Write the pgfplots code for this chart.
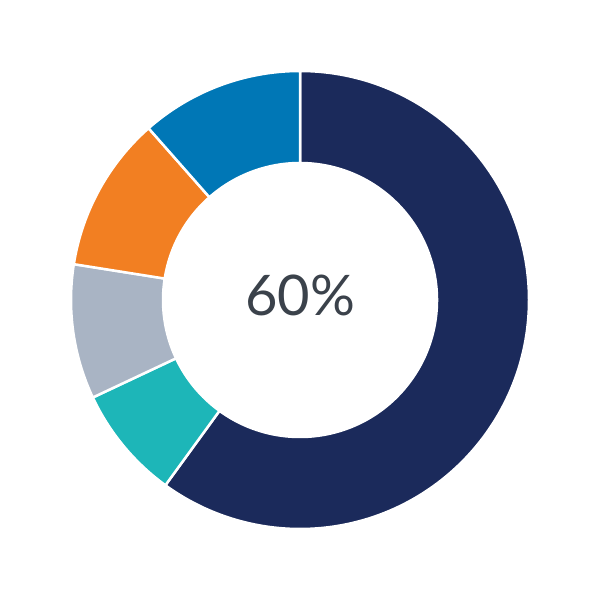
\documentclass[border=0pt]{standalone}
\usepackage{pgfplots}
\pgfplotsset{compat=1.18}
\usepackage{pgfplotstable}
\usepackage{fontspec}
\setmainfont{Lato}

\definecolor{cNavy}{HTML}{1B2A5B}
\definecolor{cTeal}{HTML}{1DB6B8}
\definecolor{cGray}{HTML}{A9B4C4}
\definecolor{cOrange}{HTML}{F27F22}
\definecolor{cBlue}{HTML}{0077B6}
\definecolor{cText}{HTML}{3B424B}

% shares in percent, clockwise from 12 o'clock
\pgfplotstableread{
share colour
60   cNavy
8    cTeal
9.5  cGray
11   cOrange
11.5 cBlue
}\shares

\begin{document}
\begin{tikzpicture}
\begin{axis}[
  x=1pt, y=1pt,
  xmin=-300, xmax=300, ymin=-300, ymax=300,
  scale only axis, hide axis, clip=false,
  ]
  \pgfplotstablegetrowsof{\shares}
  \pgfmathtruncatemacro\last{\pgfplotsretval-1}
  \def\cum{0}
  \pgfplotsforeachungrouped \i in {0,...,\last}{
    \pgfplotstablegetelem{\i}{share}\of\shares \let\v\pgfplotsretval
    \pgfplotstablegetelem{\i}{colour}\of\shares \let\c\pgfplotsretval
    \pgfmathsetmacro\a{90-3.6*\cum}
    \pgfmathsetmacro\b{90-3.6*(\cum+\v)}
    \pgfmathsetmacro\cum{\cum+\v}
    \edef\slice{\noexpand\fill[\c, draw=white, line width=2.5pt, shift={(axis cs:0,0)}]
      (\a:229pt) arc[start angle=\a, end angle=\b, radius=229pt]
      -- (\b:137pt) arc[start angle=\b, end angle=\a, radius=137pt] -- cycle;}
    \slice
  }
  \node[text=cText, font=\fontsize{56}{60}\selectfont] at (axis cs:0,4.5) {60\%};
\end{axis}
\pgfresetboundingbox
\path (current axis.south west) rectangle (current axis.north east);
\end{tikzpicture}
\end{document}
